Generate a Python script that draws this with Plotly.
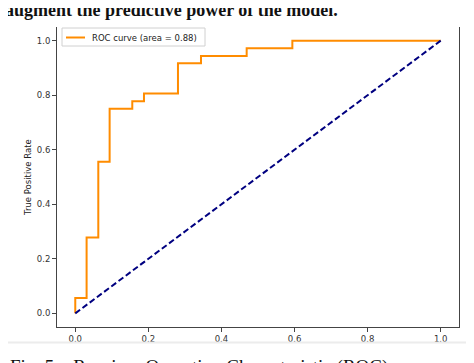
import plotly.graph_objects as go

# ROC curve data (corner points of the step curve)
fpr = [0.0, 0.0, 0.031, 0.031, 0.063, 0.063, 0.094, 0.094, 0.156, 0.156,
       0.188, 0.188, 0.281, 0.281, 0.344, 0.344, 0.469, 0.469, 0.594, 0.594, 1.0]
tpr = [0.0, 0.056, 0.056, 0.278, 0.278, 0.556, 0.556, 0.75, 0.75, 0.778,
       0.778, 0.806, 0.806, 0.917, 0.917, 0.944, 0.944, 0.972, 0.972, 1.0, 1.0]
chance_x = [0.0, 1.0]
chance_y = [0.0, 1.0]
auc_label = "ROC curve (area = 0.88)"
tick_vals = [0.0, 0.2, 0.4, 0.6, 0.8, 1.0]
tick_text = ["0.0", "0.2", "0.4", "0.6", "0.8", "1.0"]
y_title = "True Positive Rate"
top_text = "augment the predictive power of the model."
caption = "Fig. 5.\u2002 Receiver Operating Characteristic (ROC) curve."

W_FIG, H_FIG = 474, 363
L, R, T, B = 49, 23, 19, 44
PW, PH = W_FIG - L - R, H_FIG - T - B


def px(x):
    return (x - L) / PW


def py(y):
    return (T + PH - y) / PH


fig = go.Figure()
fig.add_trace(go.Scatter(x=fpr, y=tpr, mode="lines", name=auc_label,
                         line=dict(color="#FF8C00", width=2), showlegend=False))
fig.add_trace(go.Scatter(x=chance_x, y=chance_y, mode="lines", showlegend=False,
                         line=dict(color="#000080", width=2, dash="6px,3px")))

tick_font = dict(family="DejaVu Sans", size=8.5, color="#333")
fig.update_xaxes(range=[-0.05, 1.05], tickvals=tick_vals, ticktext=tick_text,
                 showgrid=False, zeroline=False, showline=True, linecolor="#444",
                 linewidth=1, ticks="outside", ticklen=4, tickcolor="#444",
                 tickfont=tick_font)
fig.update_yaxes(range=[-0.05, 1.05], tickvals=tick_vals, ticktext=tick_text,
                 showgrid=False, zeroline=False, showline=True, mirror=True,
                 linecolor="#444", linewidth=1, ticks="outside", ticklen=4,
                 tickcolor="#444", tickfont=tick_font)

shapes = [
    # legend frame
    dict(type="rect", xref="paper", yref="paper", x0=px(54), x1=px(197),
         y0=py(38), y1=py(20), line=dict(color="#d0d0d0", width=1),
         fillcolor="rgba(255,255,255,0.85)", layer="above"),
    dict(type="line", xref="paper", yref="paper", x0=px(58), x1=px(77),
         y0=py(29.5), y1=py(29.5), line=dict(color="#FF8C00", width=2), layer="above"),
    # faint page edge line
    dict(type="line", xref="paper", yref="paper", x0=px(0), x1=px(474),
         y0=py(334.5), y1=py(334.5), line=dict(color="#ececec", width=2)),
]

annotations = [
    dict(text=auc_label, xref="paper", yref="paper", x=px(82), y=py(29.5),
         xanchor="left", yanchor="middle", showarrow=False,
         font=dict(family="DejaVu Sans", size=8.5, color="#222")),
    dict(text=y_title, xref="paper", yref="paper", x=px(20), y=py(169),
         xanchor="center", yanchor="middle", textangle=-90, showarrow=False,
         font=dict(family="DejaVu Sans", size=8.5, color="#222")),
    dict(text="<b>" + top_text + "</b>", xref="paper", yref="paper", x=px(-5), y=py(2),
         xanchor="left", yanchor="middle", showarrow=False,
         font=dict(family="Liberation Serif", size=18, color="#111")),
    dict(text=caption, xref="paper", yref="paper", x=px(0), y=py(358.5),
         xanchor="left", yanchor="middle", showarrow=False,
         font=dict(family="Liberation Serif", size=19, color="#111")),
]

fig.update_layout(width=W_FIG, height=H_FIG,
                  margin=dict(l=L, r=R, t=T, b=B, autoexpand=False),
                  paper_bgcolor="white", plot_bgcolor="white",
                  shapes=shapes, annotations=annotations, showlegend=False)

fig.write_html("out.html")
